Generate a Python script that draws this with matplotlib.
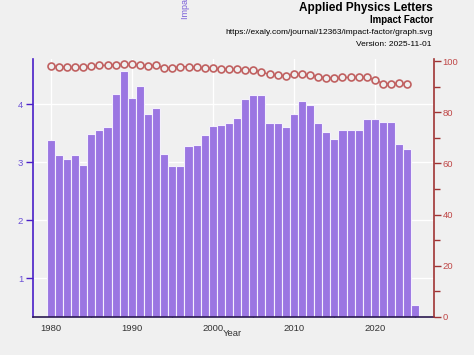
import matplotlib
matplotlib.use("Agg")
import matplotlib.pyplot as plt
from matplotlib.ticker import MultipleLocator

plt.rcParams['font.family'] = ['Liberation Sans', 'DejaVu Sans']

years = list(range(1980, 2026))
impact = [3.39, 3.13, 3.05, 3.13, 2.96, 3.49, 3.55, 3.60, 4.18, 4.57,
          4.11, 4.31, 3.83, 3.94, 3.14, 2.93, 2.93, 3.28, 3.30, 3.47,
          3.63, 3.65, 3.67, 3.77, 4.09, 4.16, 4.16, 3.67, 3.67, 3.60,
          3.83, 4.05, 3.99, 3.68, 3.52, 3.40, 3.55, 3.56, 3.56, 3.75,
          3.75, 3.69, 3.69, 3.31, 3.23, 0.54]
line_years = list(range(1980, 2025))
percentile = [98.0, 97.8, 97.5, 97.6, 97.5, 98.0, 98.3, 98.3, 98.5, 98.7,
              98.7, 98.4, 98.2, 98.3, 97.4, 97.3, 97.8, 97.8, 97.5, 97.3,
              97.1, 96.9, 96.8, 96.7, 96.5, 96.4, 95.7, 94.8, 94.4, 94.3,
              94.9, 94.8, 94.5, 93.9, 93.5, 93.2, 93.6, 93.6, 93.6, 93.6,
              92.7, 91.2, 91.2, 91.3, 91.1]

BG = '#f0f0f0'
fig = plt.figure(figsize=(4.74, 3.55), dpi=100, facecolor=BG)
ax = fig.add_axes([33/474, 1-317/355, (434-33)/474, (317-59)/355])
ax.set_facecolor(BG)

ax.bar(years, impact, width=1.0, color='#9b76e2', edgecolor='#f4f0fc', linewidth=0.8, zorder=2)
ax.set_xlim(1977.8, 2027.3)
ax.set_ylim(0.333, 4.78)
ax.set_yticks([1, 2, 3, 4])
ax.xaxis.set_major_locator(MultipleLocator(10))
ax.xaxis.set_minor_locator(MultipleLocator(5))
ax.grid(True, which='major', color='white', linewidth=1.0, zorder=0)
ax.set_axisbelow(True)

purple_sp = '#4a1fc8'
ax.spines['left'].set_color(purple_sp)
ax.spines['left'].set_linewidth(1.2)
ax.spines['bottom'].set_color('#2a1a50')
ax.spines['bottom'].set_linewidth(1.2)
ax.spines['top'].set_visible(False)
ax.spines['right'].set_visible(False)
ax.tick_params(axis='y', direction='out', length=5, width=1, colors=purple_sp,
               labelcolor='#6a4fd6', labelsize=6.8, pad=2)
ax.tick_params(axis='x', which='major', direction='in', length=4, width=1.2,
               color='#2a1a70', labelcolor='#333333', labelsize=6.8, pad=5)
ax.tick_params(axis='x', which='minor', direction='in', length=2.5, width=1,
               color='#2a1a70')

ax2 = ax.twinx()
ax2.plot(line_years, percentile, color='#c06060', marker='o', markersize=5,
         markeredgewidth=1.2, markerfacecolor=BG, linewidth=1, zorder=3)
ax2.set_ylim(0, 100.8)
ax2.set_yticks([0, 20, 40, 60, 80, 100])
ax2.yaxis.set_minor_locator(MultipleLocator(10))
for s in ['left', 'top', 'bottom']:
    ax2.spines[s].set_visible(False)
ax2.spines['right'].set_color('#a03434')
ax2.spines['right'].set_linewidth(1.2)
ax2.tick_params(axis='y', which='major', direction='out', length=5, width=1,
                colors='#a03434', labelcolor='#c04848', labelsize=6.8, pad=1)
ax2.tick_params(axis='y', which='minor', direction='out', length=4, width=1,
                colors='#a03434')

fig.text(433/474, 1-8/355, 'Applied Physics Letters', ha='right', va='center',
         fontsize=8.5, fontweight='bold', color='black')
fig.text(433/474, 1-20/355, 'Impact Factor', ha='right', va='center',
         fontsize=7, fontweight='bold', color='black')
fig.text(433/474, 1-33/355, 'https://exaly.com/journal/12363/impact-factor/graph.svg',
         ha='right', va='center', fontsize=6, color='black')
fig.text(431/474, 1-44/355, 'Version: 2025-11-01', ha='right', va='center',
         fontsize=6, color='black')
fig.text(186/474, 1-19/355, 'Impact Factor', rotation=90, ha='center', va='bottom',
         fontsize=6.5, color='#7a5fd8')
fig.text(232/474, 1-333/355, 'Year', ha='center', va='center', fontsize=6.8,
         color='#333333')

fig.savefig('out.png', dpi=100, facecolor=BG)
